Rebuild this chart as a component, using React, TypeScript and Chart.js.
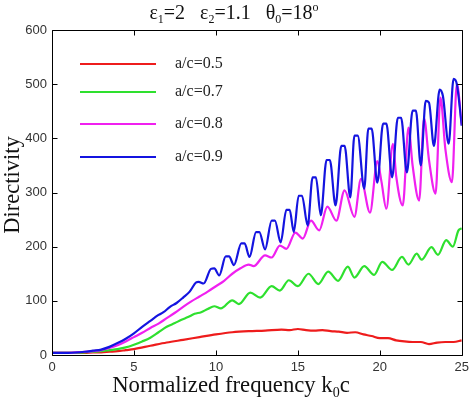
import React, { useEffect, useRef } from 'react';
import { Chart, registerables } from 'chart.js';

Chart.register(...registerables);

// ---- data ----
const seriesLabels = ['a/c=0.5', 'a/c=0.7', 'a/c=0.8', 'a/c=0.9'];
const seriesColors = ['#ee1c1c', '#2ee02e', '#f020f0', '#1414e0'];

const redX = [0, 1, 2, 2.5, 3, 3.5, 4, 4.5, 5, 6, 7, 8, 9, 10, 11, 12, 13, 14, 14.5, 15, 15.5, 16, 16.5, 17, 17.5, 18, 18.5, 19, 19.5, 20, 20.5, 21, 21.5, 22, 22.5, 23, 23.5, 24, 24.5, 25];
const redY = [4, 4, 4, 5, 5, 6, 7, 9, 11, 17, 23, 28, 33, 38, 42, 44, 45, 47, 46, 48, 46, 45, 46, 44, 43, 41, 42, 38, 35, 31, 31, 27, 25, 24, 24, 20, 23, 24, 24, 27];

const greenX = [0, 1, 2, 2.5, 3, 3.5, 4, 4.5, 5, 5.5, 6, 6.5, 7, 7.5, 7.9, 8.3, 8.7, 9.1, 9.5, 9.9, 10.3, 11.0, 11.4, 12.1, 12.7, 13.4, 13.9, 14.45, 15.0, 15.65, 16.25, 16.85, 17.45, 18.05, 18.45, 19.05, 19.65, 20.15, 20.75, 21.35, 21.75, 22.25, 22.55, 23.15, 23.55, 24.05, 24.45, 24.8, 25];
const greenY = [4, 4, 5, 6, 7, 9, 11, 14, 19, 25, 32, 42, 52, 59, 65, 70, 76, 79, 85, 90, 86, 101, 94, 115, 106, 127, 119, 138, 127, 150, 131, 154, 137, 163, 143, 164, 148, 172, 157, 181, 167, 187, 176, 199, 185, 212, 200, 230, 234];

const magentaX = [0, 1, 2, 2.5, 3, 3.5, 4, 4.5, 5, 5.5, 6, 6.5, 7, 7.5, 8, 8.5, 9, 9.5, 10, 10.5, 11, 11.5, 12, 12.3, 13.0, 13.4, 13.9, 14.3, 14.85, 15.3, 15.8, 16.3, 16.8, 17.35, 17.85, 18.45, 18.85, 19.4, 19.85, 20.1, 20.4, 20.8, 21.0, 21.4, 21.75, 22.0, 22.4, 22.7, 23.0, 23.4, 23.7, 24.0, 24.4, 24.7, 25];
const magentaY = [4, 4, 6, 7, 9, 13, 18, 25, 33, 41, 50, 58, 68, 78, 89, 99, 108, 117, 127, 137, 150, 160, 167, 164, 184, 180, 202, 196, 226, 215, 248, 230, 274, 248, 304, 255, 325, 263, 358, 320, 270, 390, 330, 276, 420, 350, 285, 437, 360, 298, 475, 380, 319, 500, 425];

const blueX = [0, 1, 2, 2.5, 3, 3.5, 4, 4.5, 5, 5.5, 6, 6.5, 6.8, 7.2, 7.6, 8.0, 8.4, 8.8, 8.95, 9.25, 9.7, 9.9, 10.2, 10.6, 10.8, 11.1, 11.55, 11.75, 12.05, 12.45, 12.65, 13.0, 13.4, 13.6, 13.95, 14.3, 14.5, 14.75, 15.05, 15.25, 15.6, 15.9, 16.1, 16.4, 16.75, 16.95, 17.3, 17.65, 17.85, 18.2, 18.45, 18.65, 19.05, 19.3, 19.5, 19.85, 20.2, 20.4, 20.75, 21.1, 21.3, 21.65, 22.0, 22.2, 22.5, 22.8, 23.0, 23.3, 23.65, 23.85, 24.2, 24.5, 24.7, 25];
const blueY = [4, 4, 6, 8, 10, 15, 22, 30, 40, 52, 63, 74, 79, 89, 96, 106, 117, 134, 135, 132, 159, 160, 147, 182, 182, 166, 206, 206, 181, 227, 227, 195, 248, 248, 208, 268, 268, 227, 294, 294, 239, 328, 328, 258, 360, 360, 276, 386, 386, 291, 405, 405, 307, 418, 418, 318, 427, 427, 328, 438, 438, 337, 451, 451, 350, 469, 466, 386, 490, 478, 390, 510, 500, 423];

const xTicks = [0, 5, 10, 15, 20, 25];
const yTicks = [0, 100, 200, 300, 400, 500, 600];

const titleRuns = [
  { t: 'ε', s: 0 }, { t: '1', s: -1 }, { t: '=2   ', s: 0 },
  { t: 'ε', s: 0 }, { t: '2', s: -1 }, { t: '=1.1   ', s: 0 },
  { t: 'θ', s: 0 }, { t: '0', s: -1 }, { t: '=18', s: 0 }, { t: 'o', s: 1 },
];
const xTitleRuns = [
  { t: 'Normalized frequency k', s: 0 }, { t: '0', s: -1 }, { t: 'c', s: 0 },
];
const yTitle = 'Directivity';

const W = 474;
const H = 399;
const SERIF = '"Liberation Serif", "Times New Roman", serif';
const SANS = '"Liberation Sans", Arial, sans-serif';

function drawRuns(ctx: CanvasRenderingContext2D, runs: { t: string; s: number }[], cx: number, baseY: number, size: number) {
  const fontFor = (s: number) => `${s === 0 ? size : Math.round(size * 0.6)}px ${SERIF}`;
  let total = 0;
  for (const r of runs) {
    ctx.font = fontFor(r.s);
    total += ctx.measureText(r.t).width;
  }
  let x = cx - total / 2;
  ctx.textAlign = 'left';
  ctx.textBaseline = 'alphabetic';
  for (const r of runs) {
    ctx.font = fontFor(r.s);
    const dy = r.s < 0 ? size * 0.22 : r.s > 0 ? -size * 0.42 : 0;
    ctx.fillText(r.t, x, baseY + dy);
    x += ctx.measureText(r.t).width;
  }
}

const decor = {
  id: 'decor',
  afterDraw(chart: any) {
    const { ctx, chartArea, scales } = chart;
    const { left, right, top, bottom } = chartArea;
    const xs = scales.x;
    const ys = scales.y;
    ctx.save();
    ctx.strokeStyle = '#000';
    ctx.lineWidth = 1;
    const L = Math.round(left) + 0.5;
    const R = Math.round(right) + 0.5;
    const T = Math.round(top) + 0.5;
    const B = Math.round(bottom) + 0.5;
    ctx.beginPath();
    ctx.rect(L, T, R - L, B - T);
    ctx.stroke();
    const tl = 5;
    ctx.beginPath();
    for (const v of xTicks) {
      const px = Math.round(xs.getPixelForValue(v)) + 0.5;
      ctx.moveTo(px, B); ctx.lineTo(px, B - tl);
      ctx.moveTo(px, T); ctx.lineTo(px, T + tl);
    }
    for (const v of yTicks) {
      const py = Math.round(ys.getPixelForValue(v)) + 0.5;
      ctx.moveTo(L, py); ctx.lineTo(L + tl, py);
      ctx.moveTo(R, py); ctx.lineTo(R - tl, py);
    }
    ctx.stroke();

    // titles
    ctx.fillStyle = '#111';
    drawRuns(ctx, titleRuns, 234, 19, 20);
    drawRuns(ctx, xTitleRuns, 231, 392, 22.7);
    ctx.save();
    ctx.translate(19, 185);
    ctx.rotate(-Math.PI / 2);
    ctx.font = `22.5px ${SERIF}`;
    ctx.textAlign = 'center';
    ctx.textBaseline = 'alphabetic';
    ctx.fillText(yTitle, 0, 0);
    ctx.restore();

    // legend
    const rows = [64, 92, 124, 157];
    ctx.font = `16px ${SERIF}`;
    ctx.textAlign = 'left';
    ctx.textBaseline = 'middle';
    seriesLabels.forEach((lab, i) => {
      ctx.strokeStyle = seriesColors[i];
      ctx.lineWidth = 2;
      ctx.beginPath();
      ctx.moveTo(80, rows[i]);
      ctx.lineTo(156, rows[i]);
      ctx.stroke();
      ctx.fillStyle = '#222';
      ctx.fillText(lab, 175, rows[i]);
    });
    ctx.restore();
  },
};

function toPoints(xs: number[], ys: number[]) {
  return xs.map((x, i) => ({ x, y: ys[i] }));
}

export default function App() {
  const ref = useRef<HTMLCanvasElement | null>(null);
  useEffect(() => {
    if (!ref.current) return;
    const sets = [
      [redX, redY],
      [greenX, greenY],
      [magentaX, magentaY],
      [blueX, blueY],
    ];
    const chart = new Chart(ref.current, {
      type: 'line',
      data: {
        datasets: sets.map(([xs, ys], i) => ({
          label: seriesLabels[i],
          data: toPoints(xs, ys),
          borderColor: seriesColors[i],
          backgroundColor: seriesColors[i],
          borderWidth: 2.2,
          pointRadius: 0,
          fill: false,
          cubicInterpolationMode: 'monotone' as const,
          order: 3 - i,
        })),
      },
      options: {
        responsive: false,
        animation: false,
        layout: { padding: { top: 30, right: 7, left: 0, bottom: 0 } },
        plugins: {
          legend: { display: false },
          tooltip: { enabled: false },
          title: { display: false },
        },
        scales: {
          x: {
            type: 'linear',
            min: 0,
            max: 25,
            ticks: { stepSize: 5, color: '#333', font: { family: SANS, size: 13 }, padding: 5, maxRotation: 0 },
            grid: { display: false, drawTicks: false },
            border: { display: false },
            afterFit: (s: any) => { s.height = 44; },
          },
          y: {
            type: 'linear',
            min: 0,
            max: 600,
            ticks: { stepSize: 100, color: '#333', font: { family: SANS, size: 13 }, padding: 5 },
            grid: { display: false, drawTicks: false },
            border: { display: false },
            afterFit: (s: any) => { s.width = 52; },
          },
        },
      },
      plugins: [decor],
    });
    return () => chart.destroy();
  }, []);
  return (
    <div style={{ position: 'fixed', left: 0, top: 0, width: W, height: H, background: '#fff' }}>
      <canvas ref={ref} width={W} height={H} style={{ width: W, height: H, display: 'block' }} />
    </div>
  );
}
